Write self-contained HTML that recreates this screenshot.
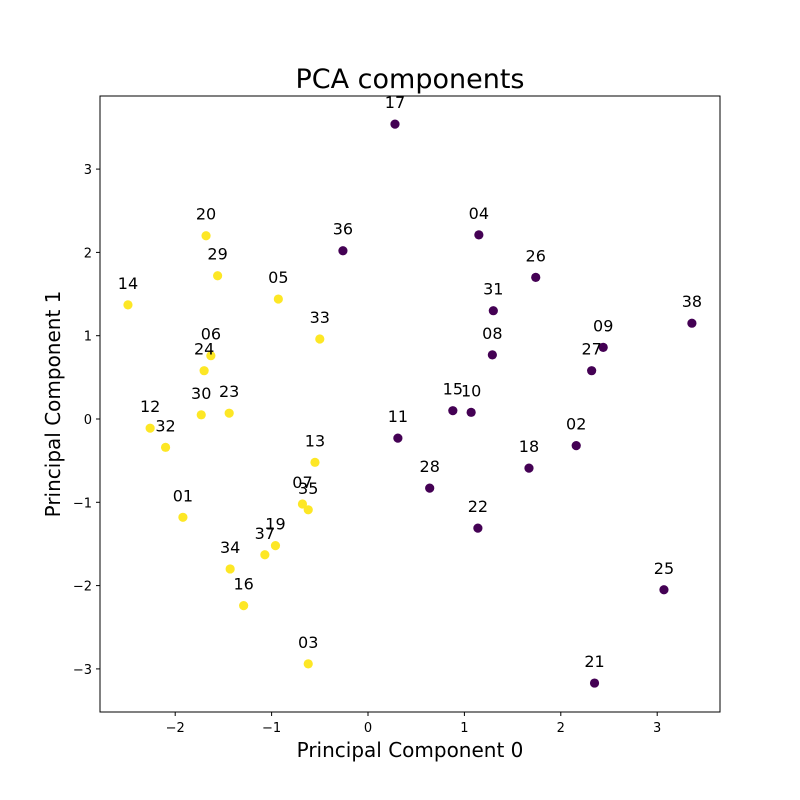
<!DOCTYPE html>
<html><head><meta charset="utf-8"><style>body{margin:0;background:#fff}svg{display:block;font-family:"DejaVu Sans","Liberation Sans",sans-serif}</style></head>
<body>
<svg id="chart" width="800" height="800" viewBox="0 0 800 800"></svg>
<script>
const labels=["17","36","04","26","31","38","09","08","27","15","10","11","02","18","28","22","25","21","20","29","14","05","33","06","24","30","23","12","32","13","07","35","01","19","37","34","16","03"];
const xValues=[0.28,-0.26,1.15,1.74,1.30,3.36,2.44,1.29,2.32,0.88,1.07,0.31,2.16,1.67,0.64,1.14,3.07,2.35,-1.68,-1.56,-2.49,-0.93,-0.50,-1.63,-1.70,-1.73,-1.44,-2.26,-2.10,-0.55,-0.68,-0.62,-1.92,-0.96,-1.07,-1.43,-1.29,-0.62];
const yValues=[3.54,2.02,2.21,1.70,1.30,1.15,0.86,0.77,0.58,0.10,0.08,-0.23,-0.32,-0.59,-0.83,-1.31,-2.05,-3.17,2.20,1.72,1.37,1.44,0.96,0.76,0.58,0.05,0.07,-0.11,-0.34,-0.52,-1.02,-1.09,-1.18,-1.52,-1.63,-1.80,-2.24,-2.94];
const clusters=[0,0,0,0,0,0,0,0,0,0,0,0,0,0,0,0,0,0,1,1,1,1,1,1,1,1,1,1,1,1,1,1,1,1,1,1,1,1];
const xTicks=[-2,-1,0,1,2,3];
const yTicks=[-3,-2,-1,0,1,2,3];
const colors=["#440154","#fde725"];
const L=100,R=720,T=96,B=712;
const sx=v=>368+v*96.4, sy=v=>419-v*83.3;
const svg=document.getElementById('chart');const NS='http://www.w3.org/2000/svg';
function mk(t,a,txt){const e=document.createElementNS(NS,t);for(const k in a)e.setAttribute(k,a[k]);if(txt!==undefined)e.textContent=txt;svg.appendChild(e);return e;}
const fmt=v=>v<0?'\u2212'+(-v):String(v);
xTicks.forEach(v=>{const x=sx(v);
const t=mk('line',{x1:x,x2:x,y1:B,y2:B+4,stroke:'#000'});


const l=mk('text',{x:x,y:B+20,'font-size':13,'text-anchor':'middle'},fmt(v));

});
yTicks.forEach(v=>{const y=sy(v);
const t=mk('line',{x1:L-4,x2:L,y1:y,y2:y,stroke:'#000'});


const l=mk('text',{x:L-8,y:y+5,'font-size':13,'text-anchor':'end'},fmt(v));

});
labels.forEach((lb,i)=>{const x=sx(xValues[i]),y=sy(yValues[i]);
const c=mk('circle',{cx:x,cy:y,r:4.6,fill:colors[clusters[i]]});


const t=mk('text',{x:x,y:y-16,'font-size':16,'text-anchor':'middle'},lb);

});
const f=mk('rect',{x:L,y:T,width:R-L,height:B-T,fill:'none',stroke:'#000','stroke-width':1});


const ti=mk('text',{x:410,y:88,'font-size':27,'text-anchor':'middle'},'PCA components');


const xt=mk('text',{x:410,y:757,'font-size':20,'text-anchor':'middle'},'Principal Component 0');


const yt=mk('text',{x:0,y:0,'font-size':20,'text-anchor':'middle',transform:'translate(60,404) rotate(-90)'},'Principal Component 1');


</script>
</body></html>
